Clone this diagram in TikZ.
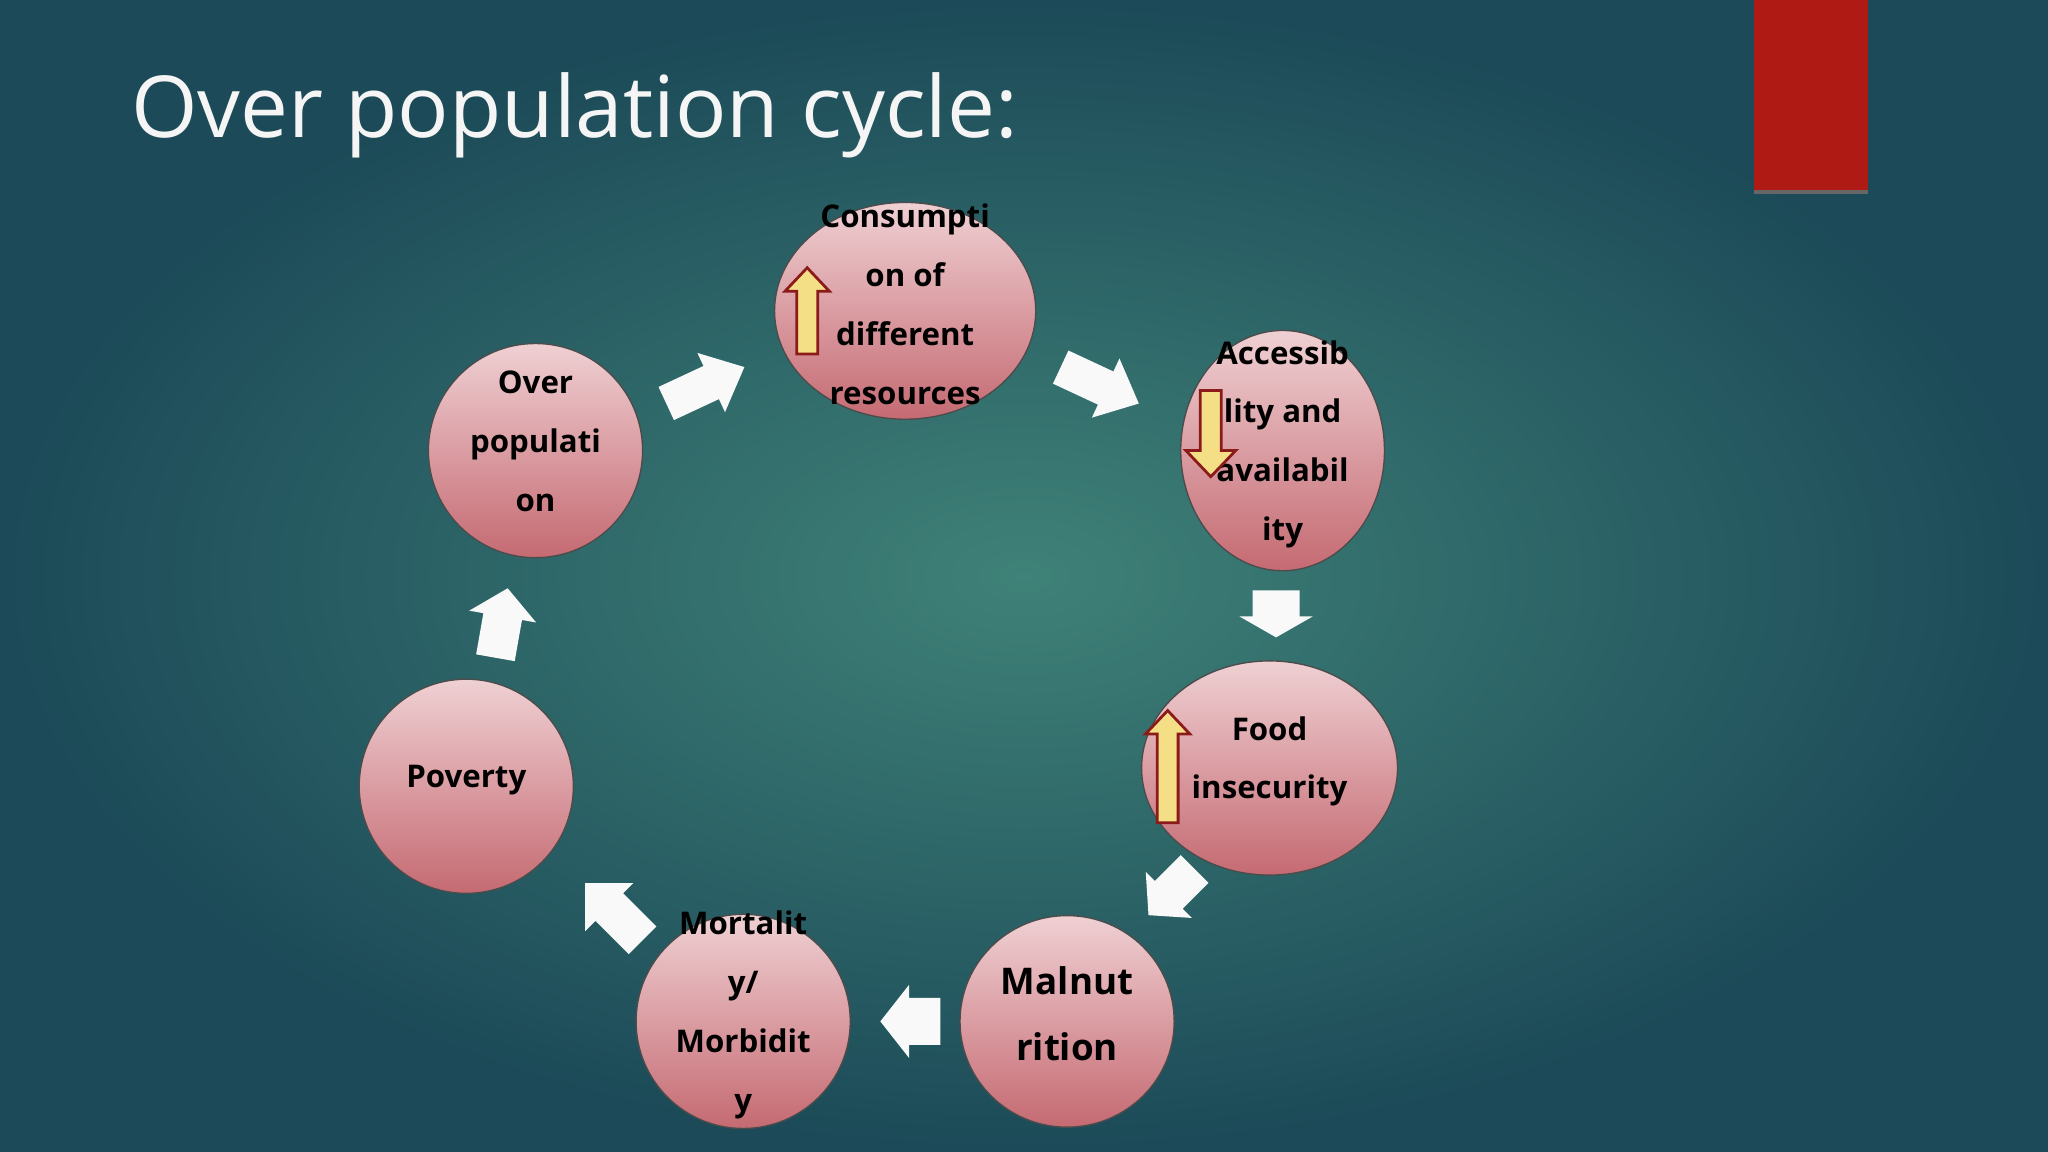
\documentclass[tikz,border=0pt]{standalone}
\usepackage{fontspec}
\setmainfont{Open Sans}
\usetikzlibrary{shapes.geometric}
\definecolor{bgin}{HTML}{3F8278}
\definecolor{bgout}{HTML}{1C4A58}
\definecolor{pinktop}{HTML}{EFD0D3}
\definecolor{pinkbot}{HTML}{C56A72}
\definecolor{redbar}{HTML}{B01A15}
\definecolor{yel}{HTML}{F4DE86}
\definecolor{darkred}{HTML}{8B1A1A}
\tikzset{
  bubfill/.style={draw=gray!60!black,line width=0.3pt,top color=pinktop,bottom color=pinkbot},
  lbl/.style={inner sep=0pt,align=center,font=\fontsize{6.8}{12.8}\selectfont\bfseries},
  warr/.style={fill=white!95!gray,draw=none},
  yarr/.style={fill=yel,draw=darkred,line width=0.6pt}
}
% name, x, y, angle, length, half shaft, half head, head length, style
\newcommand\blkarrow[9]{%
  \coordinate (#1) at (#2,#3);
  \path[#9,shift={(#2,#3)},rotate=#4]
    (-#5/2,-#6) -- (#5/2-#8,-#6) -- (#5/2-#8,-#7) -- (#5/2,0) -- (#5/2-#8,#7) -- (#5/2-#8,#6) -- (-#5/2,#6) -- cycle;}
\begin{document}
\begin{tikzpicture}[x=0.01cm,y=-0.01cm]
\useasboundingbox (0,0) rectangle (1568,882);
\shade[inner color=bgin,outer color=bgout] (0,0) rectangle (1568,882);
\fill[redbar] (1343,0) rectangle (1430,147);
\draw[black!60,line width=1pt] (1343,147) -- (1430,147);
\node[anchor=west,text=white!92!gray,font=\fontsize{18.6}{22}\selectfont] (title) at (88,88) {Over population cycle:};
\shade[bubfill] (693,238) ellipse [x radius=100,y radius=83];
\shade[bubfill] (982,345) ellipse [x radius=78,y radius=92];
\shade[bubfill] (972,588) ellipse [x radius=98,y radius=82];
\shade[bubfill] (817,782) ellipse [x radius=82,y radius=81];
\shade[bubfill] (569,782) ellipse [x radius=82,y radius=82];
\shade[bubfill] (357,602) ellipse [x radius=82,y radius=82];
\shade[bubfill] (410,345) ellipse [x radius=82,y radius=82];
\node[lbl] (c) at (693,233) {Consumpti\\on of\\different\\resources};
\node[lbl] (a) at (982,340) {Accessib\\lity and\\availabil\\ity};
\node[lbl] (f) at (972,583) {Food\\insecurity};
\node[lbl,font=\fontsize{8}{14.5}\selectfont\bfseries] (m) at (817,776) {Malnut\\rition};
\node[lbl] (mo) at (569,777) {Mortalit\\y/\\Morbidit\\y};
\node[lbl] (p) at (357,597) {Poverty};
\node[lbl] (o) at (410,338) {Over\\populati\\on};
\blkarrow{w1}{540}{295}{25}{66}{14}{25}{28}{warr}
\blkarrow{w2}{842}{295}{-25}{66}{14}{25}{28}{warr}
\blkarrow{w3}{977}{470}{-90}{36}{18}{28}{16}{warr}
\blkarrow{w4}{897}{683}{-135}{50}{15}{25}{22}{warr}
\blkarrow{w5}{697}{782}{180}{46}{18}{28}{22}{warr}
\blkarrow{w6}{470}{698}{135}{62}{15}{26}{26}{warr}
\blkarrow{w7}{384}{477}{80}{54}{15}{26}{22}{warr}
\blkarrow{y1}{618}{238}{90}{66}{8}{17}{18}{yarr}
\blkarrow{y2}{927}{332}{-90}{66}{8}{19}{20}{yarr}
\blkarrow{y3}{894}{587}{90}{86}{8}{17}{18}{yarr}
\end{tikzpicture}
\end{document}
